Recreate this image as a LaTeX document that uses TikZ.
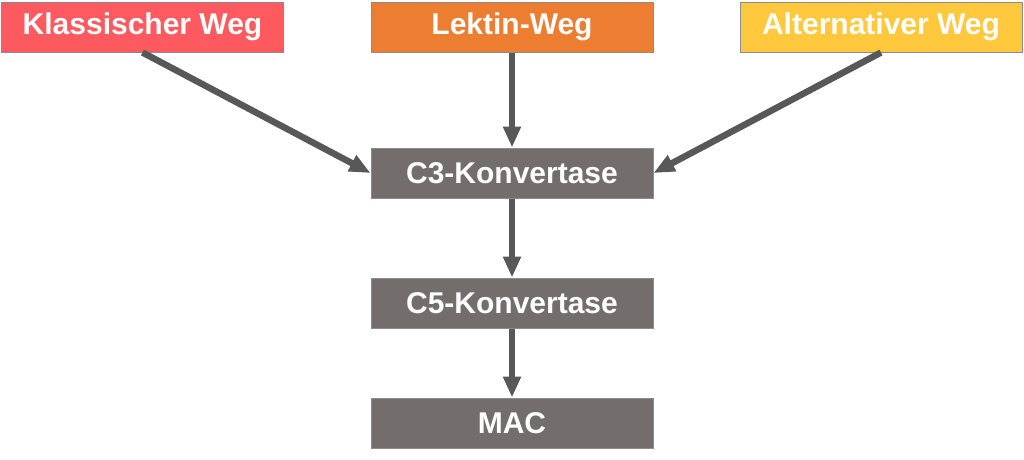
\documentclass[tikz,border=0pt]{standalone}
\usepackage{fontspec}
\setmainfont{Liberation Sans}
\usetikzlibrary{arrows.meta}
\definecolor{Rose}{HTML}{FF5A5F}
\definecolor{Amber}{HTML}{ED7D31}
\definecolor{Sun}{HTML}{FFC83D}
\definecolor{Slate}{HTML}{736E6C}
\definecolor{Edge}{HTML}{8C8C8C}
\definecolor{Shaft}{HTML}{585858}
\begin{document}
\begin{tikzpicture}[x=1pt,y=-1pt,every node/.style={font=\bfseries\fontsize{30}{34}\selectfont,text=white},
  pathbox/.style={draw=Edge,line width=1pt,minimum width=282pt,minimum height=50pt,inner sep=0pt},
  flow/.style={Shaft,line width=6.5pt,-{Triangle[width=17pt,length=21pt]}}]
\fill[white] (0,0) rectangle (1024,459);
\node[pathbox,fill=Rose] (klass) at (142.5,27) {Klassischer Weg};
\node[pathbox,fill=Amber] (lektin) at (512,27) {Lektin-Weg};
\node[pathbox,fill=Sun] (alter) at (881,27) {Alternativer Weg};
\node[pathbox,fill=Slate] (cdrei) at (512,173) {C3-Konvertase};
\node[pathbox,fill=Slate] (cfuenf) at (512,303) {C5-Konvertase};
\node[pathbox,fill=Slate] (mac) at (512,423) {MAC};
\draw[flow] (klass.south) -- (cdrei.west);
\draw[flow] (lektin) -- (cdrei);
\draw[flow] (alter.south) -- (cdrei.east);
\draw[flow] (cdrei) -- (cfuenf);
\draw[flow] (cfuenf) -- (mac);
\end{tikzpicture}
\end{document}
